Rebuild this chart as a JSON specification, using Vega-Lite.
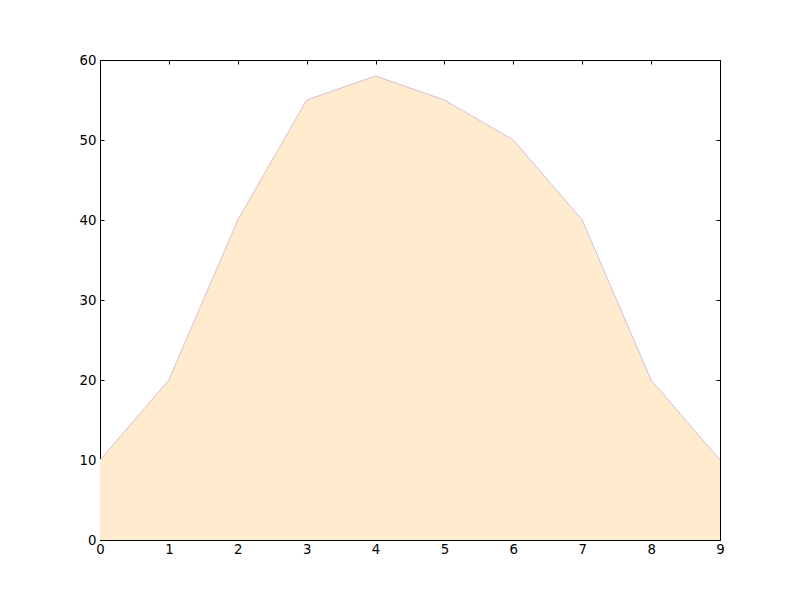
{
  "$schema": "https://vega.github.io/schema/vega-lite/v6.json",
  "width": 620,
  "height": 480,
  "autosize": "none",
  "padding": {"left": 100, "top": 60, "right": 80, "bottom": 60},
  "background": "white",
  "config": {
    "view": {"stroke": "black", "strokeWidth": 1},
    "axis": {
      "grid": false,
      "domainColor": "black",
      "tickColor": "black",
      "labelColor": "black",
      "labelFont": "DejaVu Sans",
      "labelFontSize": 13.3,
      "labelFlush": false,
      "labelOverlap": false,
      "labelBound": false,
      "tickSize": -4,
      "title": null
    }
  },
  "data": {
    "values": [
      {"x": 0, "y": 10},
      {"x": 1, "y": 20},
      {"x": 2, "y": 40},
      {"x": 3, "y": 55},
      {"x": 4, "y": 58},
      {"x": 5, "y": 55},
      {"x": 6, "y": 50},
      {"x": 7, "y": 40},
      {"x": 8, "y": 20},
      {"x": 9, "y": 10}
    ]
  },
  "resolve": {"axis": {"x": "independent", "y": "independent"}},
  "layer": [
    {
      "mark": {"type": "area", "color": "#FFEBCD", "opacity": 1},
      "encoding": {
        "x": {"field": "x", "type": "quantitative", "scale": {"domain": [0, 9], "nice": false}, "axis": {"orient": "bottom", "values": [0,1,2,3,4,5,6,7,8,9], "labelPadding": 6}},
        "y": {"field": "y", "type": "quantitative", "scale": {"domain": [0, 60], "nice": false}, "axis": {"orient": "left", "values": [0,10,20,30,40,50,60], "labelPadding": 8}}
      }
    },
    {
      "mark": {"type": "line", "color": "#D8BFD8", "strokeWidth": 1},
      "encoding": {
        "x": {"field": "x", "type": "quantitative", "axis": {"orient": "top", "values": [0,1,2,3,4,5,6,7,8,9], "labels": false}},
        "y": {"field": "y", "type": "quantitative", "axis": {"orient": "right", "values": [0,10,20,30,40,50,60], "labels": false}}
      }
    }
  ]
}
